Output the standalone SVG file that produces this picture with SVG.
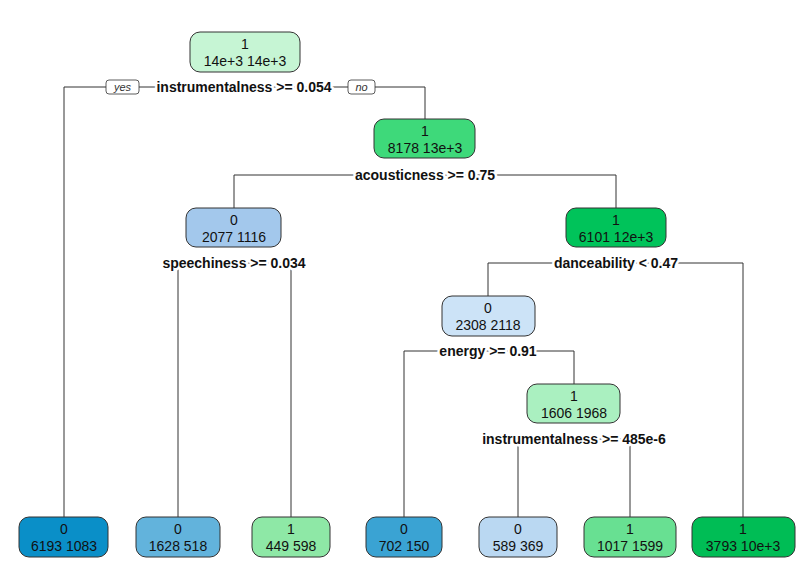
<svg xmlns="http://www.w3.org/2000/svg" width="805" height="583" viewBox="0 0 805 583">
<style>
.n rect{stroke:#333;stroke-width:1}
.n text{font-family:"Liberation Sans",Arial,sans-serif;font-size:14px;text-anchor:middle;fill:#111}
.c path{fill:none;stroke:#333;stroke-width:1}
.s{font-family:"Liberation Sans",Arial,sans-serif;font-size:14px;font-weight:bold;text-anchor:middle;fill:#111;stroke:#fff;stroke-width:5px;paint-order:stroke;stroke-linejoin:round}
.yn rect{fill:#fff;stroke:#333;stroke-width:0.8}
.yn text{font-family:"Liberation Sans",Arial,sans-serif;font-size:11px;font-style:italic;text-anchor:middle;fill:#333}
</style>
<rect width="805" height="583" fill="#fff"/>
<g class="c">
<path d="M64,517 V87 H425 V119"/>
<path d="M234,208 V175 H616 V208"/>
<path d="M178,517 V263 H291 V517"/>
<path d="M488,296 V263 H743 V517"/>
<path d="M404,517 V351 H574 V384"/>
<path d="M518,517 V439 H630 V517"/>
</g>
<g class="yn">
<rect x="106" y="80" width="33" height="14" rx="3"/><text x="122.5" y="91">yes</text>
<rect x="348" y="80" width="27" height="14" rx="3"/><text x="361.5" y="91">no</text>
</g>
<text class="s" x="244" y="92">instrumentalness &gt;= 0.054</text>
<text class="s" x="425" y="180">acousticness &gt;= 0.75</text>
<text class="s" x="234" y="268">speechiness &gt;= 0.034</text>
<text class="s" x="616" y="268">danceability &lt; 0.47</text>
<text class="s" x="488" y="356">energy &gt;= 0.91</text>
<text class="s" x="574" y="444">instrumentalness &gt;= 485e-6</text>
<g class="n" id="n1"><rect x="190" y="32" width="110" height="40" rx="10" fill="#c6f5d4"/><text x="245" y="49">1</text><text x="245" y="66">14e+3  14e+3</text></g>
<g class="n" id="n3"><rect x="374" y="119" width="101" height="39" rx="10" fill="#3ed97a"/><text x="425" y="136">1</text><text x="425" y="153">8178  13e+3</text></g>
<g class="n" id="n6"><rect x="186" y="208" width="95" height="39" rx="10" fill="#a3c8ec"/><text x="234" y="225">0</text><text x="234" y="242">2077  1116</text></g>
<g class="n" id="n7"><rect x="566" y="208" width="100" height="39" rx="10" fill="#00c35a"/><text x="616" y="225">1</text><text x="616" y="242">6101  12e+3</text></g>
<g class="n" id="n14"><rect x="442" y="296" width="93" height="40" rx="10" fill="#cce3f7"/><text x="488" y="313">0</text><text x="488" y="330">2308  2118</text></g>
<g class="n" id="n29"><rect x="527" y="384" width="93" height="39" rx="10" fill="#aaf0c0"/><text x="574" y="401">1</text><text x="574" y="418">1606  1968</text></g>
<g class="n" id="l2"><rect x="19" y="517" width="89" height="40" rx="10" fill="#0a8fc8"/><text x="64" y="534">0</text><text x="64" y="551">6193  1083</text></g>
<g class="n" id="l12"><rect x="136" y="517" width="84" height="40" rx="10" fill="#62b3dc"/><text x="178" y="534">0</text><text x="178" y="551">1628  518</text></g>
<g class="n" id="l13"><rect x="252" y="517" width="78" height="40" rx="10" fill="#8ee8a6"/><text x="291" y="534">1</text><text x="291" y="551">449  598</text></g>
<g class="n" id="l28"><rect x="366" y="517" width="76" height="40" rx="10" fill="#3aa3d3"/><text x="404" y="534">0</text><text x="404" y="551">702  150</text></g>
<g class="n" id="l58"><rect x="479" y="517" width="78" height="40" rx="10" fill="#bad8f2"/><text x="518" y="534">0</text><text x="518" y="551">589  369</text></g>
<g class="n" id="l59"><rect x="584" y="517" width="92" height="40" rx="10" fill="#68e092"/><text x="630" y="534">1</text><text x="630" y="551">1017  1599</text></g>
<g class="n" id="l15"><rect x="692" y="517" width="103" height="40" rx="10" fill="#00bd55"/><text x="743" y="534">1</text><text x="743" y="551">3793  10e+3</text></g>
</svg>
